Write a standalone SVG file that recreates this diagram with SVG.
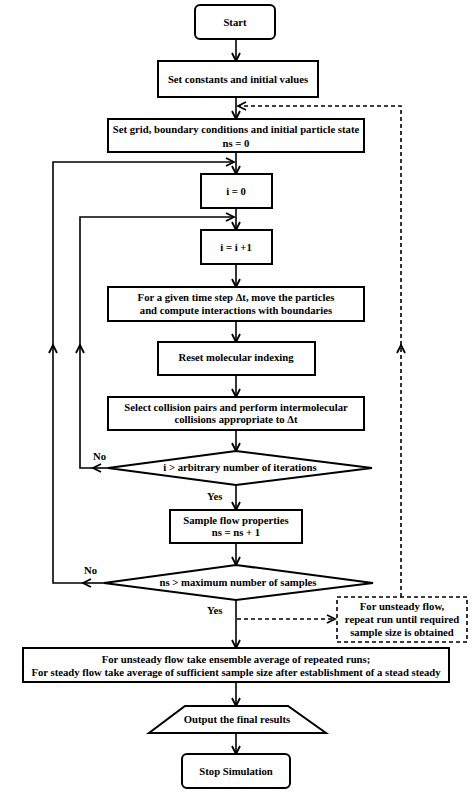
<svg xmlns="http://www.w3.org/2000/svg" width="474" height="797" viewBox="0 0 474 797">
<style>
.box{fill:#fff;stroke:#000;stroke-width:2}
.t{font-family:"Liberation Serif","Times New Roman",serif;font-weight:bold;font-size:10.7px;text-anchor:middle;fill:#000}
.l{font-family:"Liberation Serif","Times New Roman",serif;font-weight:bold;font-size:10.7px;fill:#000}
.c{fill:none;stroke:#000;stroke-width:1.6}
.d{fill:none;stroke:#000;stroke-width:1.6;stroke-dasharray:4,3}
.db{fill:#fff;stroke:#000;stroke-width:1.6;stroke-dasharray:4,3}
</style>
<defs>
<marker id="a" markerUnits="userSpaceOnUse" markerWidth="12" markerHeight="12" refX="9" refY="5" orient="auto" viewBox="0 0 12 12">
<path d="M1,1 L9,5 L1,9" fill="none" stroke="#000" stroke-width="1.8"/>
</marker>
</defs>
<rect width="474" height="797" fill="#fff"/>
<g id="connectors">
<path class="c" d="M236,39 V61" marker-end="url(#a)"/>
<path class="c" d="M236,97 V119" marker-end="url(#a)"/>
<path class="c" d="M236,152 V174" marker-end="url(#a)"/>
<path class="c" d="M236,208 V230" marker-end="url(#a)"/>
<path class="c" d="M236,264 V287" marker-end="url(#a)"/>
<path class="c" d="M236,321 V342" marker-end="url(#a)"/>
<path class="c" d="M236,375 V397" marker-end="url(#a)"/>
<path class="c" d="M236,430 V451" marker-end="url(#a)"/>
<path class="c" d="M236,485 V510" marker-end="url(#a)"/>
<path class="c" d="M236,543 V565" marker-end="url(#a)"/>
<path class="c" d="M236,600 V648" marker-end="url(#a)"/>
<path class="c" d="M236,682 V706" marker-end="url(#a)"/>
<path class="c" d="M236,733 V754" marker-end="url(#a)"/>
<path class="c" d="M108,468 H93" marker-end="url(#a)"/>
<path class="c" d="M93,468 H80 V345" marker-end="url(#a)"/>
<path class="c" d="M80,345 V217 H234" marker-end="url(#a)"/>
<path class="c" d="M104,583 H83" marker-end="url(#a)"/>
<path class="c" d="M83,583 H53 V345" marker-end="url(#a)"/>
<path class="c" d="M53,345 V162 H234" marker-end="url(#a)"/>
<path class="d" d="M237,619 H335" marker-end="url(#a)"/>
<path class="d" d="M401,597 V345" marker-end="url(#a)"/>
<path class="d" d="M401,345 V106 H238" marker-end="url(#a)"/>
<text class="l" x="93" y="460">No</text>
<text class="l" x="84" y="574">No</text>
<text class="l" x="207" y="500">Yes</text>
<text class="l" x="207" y="614">Yes</text>
</g>
<g id="start"><rect class="box" x="195" y="5" width="80" height="34" rx="5"/><text class="t" x="235" y="26">Start</text></g>
<g id="constants"><rect class="box" x="158" y="61" width="160" height="36"/><text class="t" x="238" y="83">Set constants and initial values</text></g>
<g id="grid"><rect class="box" x="108" y="119" width="256" height="33"/><text class="t" x="236" y="133">Set grid, boundary conditions and initial particle state</text><text class="t" x="236" y="147">ns = 0</text></g>
<g id="i0"><rect class="box" x="201" y="174" width="71" height="34"/><text class="t" x="236" y="195">i = 0</text></g>
<g id="iinc"><rect class="box" x="201" y="230" width="71" height="34"/><text class="t" x="236" y="251">i = i +1</text></g>
<g id="move"><rect class="box" x="108" y="287" width="256" height="34"/><text class="t" x="236" y="301">For a given time step Δt, move the particles</text><text class="t" x="236" y="314">and compute interactions with boundaries</text></g>
<g id="reset"><rect class="box" x="158" y="342" width="157" height="33"/><text class="t" x="236" y="361">Reset molecular indexing</text></g>
<g id="select"><rect class="box" x="108" y="397" width="256" height="33"/><text class="t" x="236" y="411">Select collision pairs and perform intermolecular</text><text class="t" x="236" y="423">collisions appropriate to Δt</text></g>
<g id="dec1"><polygon class="box" points="236,451 372,468 236,485 108,468"/><text class="t" x="240" y="471">i &gt; arbitrary number of iterations</text></g>
<g id="sample"><rect class="box" x="170" y="510" width="132" height="33"/><text class="t" x="236" y="524">Sample flow properties</text><text class="t" x="236" y="536">ns = ns + 1</text></g>
<g id="dec2"><polygon class="box" points="236,565 373,583 236,600 104,583"/><text class="t" x="238" y="586">ns &gt; maximum number of samples</text></g>
<g id="note"><rect class="db" x="337" y="597" width="130" height="45"/><text class="t" x="402" y="610">For unsteady flow,</text><text class="t" x="402" y="623">repeat run until required</text><text class="t" x="402" y="636">sample size is obtained</text></g>
<g id="average"><rect class="box" x="23" y="648" width="426" height="34"/><text class="t" x="236" y="663">For unsteady flow take ensemble average of repeated runs;</text><text class="t" x="236" y="676">For steady flow take average of sufficient sample size after establishment of a stead steady</text></g>
<g id="output"><polygon class="box" points="185,706 288,706 326,733 149,733"/><text class="t" x="237" y="723">Output the final results</text></g>
<g id="stop"><rect class="box" x="182" y="754" width="108" height="34" rx="5"/><text class="t" x="236" y="775">Stop Simulation</text></g>
</svg>
